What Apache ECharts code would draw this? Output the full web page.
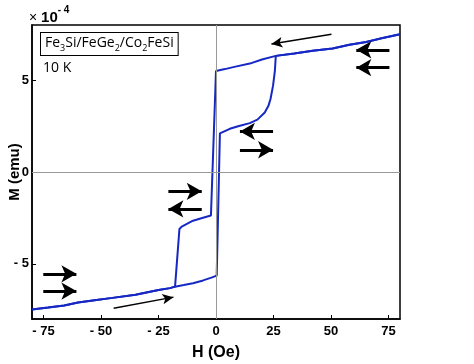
<!DOCTYPE html>
<html><head><meta charset="utf-8">
<script src="https://cdn.jsdelivr.net/npm/echarts@6/dist/echarts.min.js"></script>
<style>html,body{margin:0;padding:0;background:#fff}#c{width:474px;height:364px}</style>
</head><body><div id="c"></div>
<script>
// H in Oe, M in 1e-4 emu
const descH = [80, 72, 65.3, 58, 50.7, 42, 34, 26, 20, 14.7, 8, 3.9, 0, -0.1, -2.2, -6, -10, -14.9, -15.9, -17.8, -20, -25, -35, -45, -52, -60, -66, -73, -80];
const descM = [7.5, 7.28, 7.08, 6.93, 6.72, 6.6, 6.45, 6.32, 6.12, 5.9, 5.72, 5.6, 5.5, 5.5, -2.37, -2.5, -2.65, -2.97, -3.1, -6.24, -6.32, -6.42, -6.68, -6.85, -6.96, -7.1, -7.27, -7.38, -7.48];
const ascH = [-80, -73, -66, -60, -52, -45, -35, -25, -20, -17.8, -14, -10, -5.6, -2, 0.3, 1.7, 2.5, 6, 10, 14.7, 18, 21.2, 22.8, 23.7, 24.8, 25.6, 26, 34, 42, 50.7, 58, 65.3, 72, 80];
const ascM = [-7.48, -7.38, -7.27, -7.1, -6.96, -6.85, -6.68, -6.42, -6.32, -6.24, -6.15, -6.05, -5.9, -5.75, -5.64, 2.1, 2.16, 2.35, 2.5, 2.66, 2.85, 3.24, 3.6, 3.97, 4.7, 5.5, 6.32, 6.45, 6.6, 6.72, 6.93, 7.08, 7.28, 7.5];
const xTicks = [-75, -50, -25, 0, 25, 50, 75];
const yTicks = [-5, 0, 5];
// annotation arrows [x1, y1, x2, y2] in data units (tail -> head)
const thickArrows = [
  [75.4, 6.65, 61, 6.65],
  [75.4, 5.68, 61, 5.68],
  [24.8, 2.21, 10.4, 2.21],
  [10.4, 1.21, 24.8, 1.21],
  [-20.7, -1.05, -6.2, -1.05],
  [-6.2, -2.01, -20.7, -2.01],
  [-75.1, -5.54, -60.7, -5.54],
  [-75.1, -6.48, -60.7, -6.48]
];
const thinArrows = [
  [50.2, 7.5, 24.1, 6.96],
  [-44.5, -7.41, -18.5, -6.81]
];

const pair = (h, m) => h.map((v, i) => [v, m[i]]);
const neg = v => v < 0 ? '- ' + Math.abs(v) : String(v);
const toLines = arr => arr.map(a => [{coord: [a[0], a[1]]}, {coord: [a[2], a[3]]}]);
const blue = '#1628c4';
const F = 'Liberation Sans, Arial, sans-serif';

const chart = echarts.init(document.getElementById('c'), null, {renderer: 'canvas'});
chart.setOption({
  animation: false,
  grid: {left: 32, right: 74, top: 25, bottom: 45, show: true, borderColor: '#000', borderWidth: 1.5, outerBoundsMode: 'none', containLabel: false},
  xAxis: {
    type: 'value', min: -80, max: 80,
    name: 'H (Oe)', nameLocation: 'middle', nameGap: 26, nameMoveOverlap: false,
    nameTextStyle: {fontFamily: F, fontWeight: 'bold', fontSize: 16, color: '#000'},
    axisLine: {show: true, onZero: false, lineStyle: {color: '#000', width: 1.5}},
    axisTick: {show: true, inside: true, length: 4, customValues: xTicks, lineStyle: {color: '#000'}},
    axisLabel: {customValues: xTicks, formatter: neg, fontFamily: F, fontWeight: 'bold', fontSize: 13, color: '#000', margin: 6},
    splitLine: {show: false}
  },
  yAxis: {
    type: 'value', min: -8, max: 8,
    name: 'M (emu)', nameLocation: 'middle', nameGap: 10, nameRotate: 90, nameMoveOverlap: false,
    nameTextStyle: {fontFamily: F, fontWeight: 'bold', fontSize: 15, color: '#000'},
    axisLine: {show: true, onZero: false, lineStyle: {color: '#000', width: 1.5}},
    axisTick: {show: true, inside: true, length: 4, customValues: yTicks, lineStyle: {color: '#000'}},
    axisLabel: {customValues: yTicks, formatter: neg, fontFamily: F, fontWeight: 'bold', fontSize: 13, color: '#000', margin: 3},
    splitLine: {show: false}
  },
  graphic: [
    {type: 'text', left: 29, top: 5, style: {
      text: '{x|× }{n|10}{s|- 4}', rich: {
        x: {fontFamily: F, fontSize: 14, fill: '#000', verticalAlign: 'bottom', lineHeight: 20},
        n: {fontFamily: F, fontSize: 15, fontWeight: 'bold', fill: '#000', verticalAlign: 'bottom', lineHeight: 20},
        s: {fontFamily: F, fontSize: 10, fontWeight: 'bold', fill: '#000', verticalAlign: 'top', lineHeight: 20}
      }}},
    {type: 'text', left: 40, top: 32, style: {
      text: '{n|Fe}{s|3}{n|Si/FeGe}{s|2}{n|/Co}{s|2}{n|FeSi}',
      borderColor: '#000', borderWidth: 1, padding: [3, 4, 2, 4], backgroundColor: '#fff',
      rich: {
        n: {fontFamily: 'Open Sans, sans-serif', fontSize: 14, fill: '#000', verticalAlign: 'top', lineHeight: 17},
        s: {fontFamily: 'Open Sans, sans-serif', fontSize: 9, fill: '#000', verticalAlign: 'bottom', lineHeight: 17}
      }}},
    {type: 'text', left: 43, top: 61, style: {text: '10 K', fontFamily: 'Open Sans, sans-serif', fontSize: 14, fill: '#000'}}
  ],
  series: [
    {type: 'line', data: [], z: 1, silent: true,
      markLine: {silent: true, symbol: ['none', 'none'], label: {show: false},
        lineStyle: {color: '#999', width: 1, type: 'solid'},
        data: [{xAxis: 0}, {yAxis: 0}]}},
    {type: 'line', data: pair(descH, descM), showSymbol: false, z: 3,
      lineStyle: {color: blue, width: 2}, itemStyle: {color: blue}},
    {type: 'line', data: pair(ascH, ascM), showSymbol: false, z: 3,
      lineStyle: {color: blue, width: 2}, itemStyle: {color: blue}},
    {type: 'line', data: [], z: 4, silent: true,
      markLine: {silent: true, symbol: ['none', 'arrow'], symbolSize: [13, 15], label: {show: false},
        lineStyle: {color: '#000', width: 3, type: 'solid'},
        data: toLines(thickArrows)}},
    {type: 'line', data: [], z: 4, silent: true,
      markLine: {silent: true, symbol: ['none', 'arrow'], symbolSize: [8, 11], label: {show: false},
        lineStyle: {color: '#000', width: 1.5, type: 'solid'},
        data: toLines(thinArrows)}}
  ]
});
</script></body></html>
